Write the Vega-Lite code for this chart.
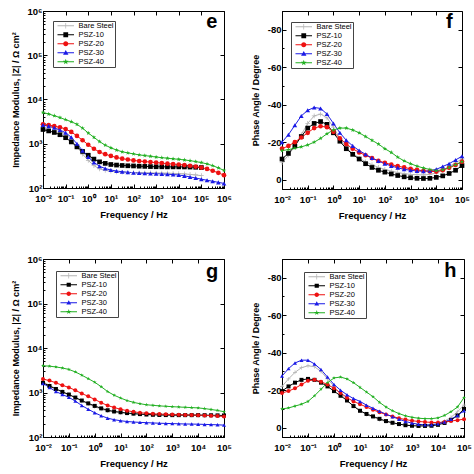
{
"$schema": "https://vega.github.io/schema/vega-lite/v6.json",
"padding": {"left": 10, "top": 5, "right": 0, "bottom": 0},
"config": {
  "font": "Liberation Sans",
  "view": {"stroke": "black", "strokeWidth": 1},
  "axis": {"grid": false, "domainColor": "black", "tickColor": "black", "labelColor": "black", "titleColor": "black", "labelFontWeight": "bold", "labelFontSize": 9.5, "titleFontWeight": "bold", "titleFontSize": 9.5, "tickSize": -4, "labelFlush": false, "labelOverlap": false},
  "axisX": {"labelPadding": 9, "titlePadding": 7},
  "axisY": {"labelPadding": 5, "titlePadding": 6.5, "titleFontSize": 9},
  "legend": {"title": null, "orient": "none", "strokeColor": "#444", "padding": 1, "labelFontSize": 7.5, "labelColor": "black", "symbolSize": 36, "symbolOffset": 8, "labelOffset": 9, "rowPadding": 0, "symbolStrokeWidth": 0}
},
"datasets": {
"e": [
{"series":"Bare Steel","freq":0.01,"value":2700},{"series":"Bare Steel","freq":0.0178,"value":2500},{"series":"Bare Steel","freq":0.0316,"value":2250},{"series":"Bare Steel","freq":0.0562,"value":1950},{"series":"Bare Steel","freq":0.1,"value":1650},{"series":"Bare Steel","freq":0.178,"value":1250},{"series":"Bare Steel","freq":0.316,"value":850},{"series":"Bare Steel","freq":0.562,"value":580},{"series":"Bare Steel","freq":1,"value":420},{"series":"Bare Steel","freq":1.78,"value":320},{"series":"Bare Steel","freq":3.16,"value":270},{"series":"Bare Steel","freq":5.62,"value":250},{"series":"Bare Steel","freq":10,"value":240},{"series":"Bare Steel","freq":17.8,"value":232},{"series":"Bare Steel","freq":31.6,"value":227},{"series":"Bare Steel","freq":56.2,"value":224},{"series":"Bare Steel","freq":100,"value":222},{"series":"Bare Steel","freq":178,"value":221},{"series":"Bare Steel","freq":316,"value":220},{"series":"Bare Steel","freq":562,"value":219},{"series":"Bare Steel","freq":1000,"value":218},{"series":"Bare Steel","freq":1780,"value":217},{"series":"Bare Steel","freq":3160,"value":216},{"series":"Bare Steel","freq":5620,"value":214},{"series":"Bare Steel","freq":10000,"value":212},{"series":"Bare Steel","freq":17800,"value":208},{"series":"Bare Steel","freq":31600,"value":203},{"series":"Bare Steel","freq":56200,"value":197},{"series":"Bare Steel","freq":100000,"value":190},
{"series":"PSZ-10","freq":0.01,"value":2100},{"series":"PSZ-10","freq":0.0178,"value":1950},{"series":"PSZ-10","freq":0.0316,"value":1800},{"series":"PSZ-10","freq":0.0562,"value":1600},{"series":"PSZ-10","freq":0.1,"value":1370},{"series":"PSZ-10","freq":0.178,"value":1100},{"series":"PSZ-10","freq":0.316,"value":850},{"series":"PSZ-10","freq":0.562,"value":670},{"series":"PSZ-10","freq":1,"value":550},{"series":"PSZ-10","freq":1.78,"value":450},{"series":"PSZ-10","freq":3.16,"value":390},{"series":"PSZ-10","freq":5.62,"value":360},{"series":"PSZ-10","freq":10,"value":340},{"series":"PSZ-10","freq":17.8,"value":330},{"series":"PSZ-10","freq":31.6,"value":323},{"series":"PSZ-10","freq":56.2,"value":318},{"series":"PSZ-10","freq":100,"value":315},{"series":"PSZ-10","freq":178,"value":311},{"series":"PSZ-10","freq":316,"value":308},{"series":"PSZ-10","freq":562,"value":305},{"series":"PSZ-10","freq":1000,"value":302},{"series":"PSZ-10","freq":1780,"value":301},{"series":"PSZ-10","freq":3160,"value":300},{"series":"PSZ-10","freq":5620,"value":300},{"series":"PSZ-10","freq":10000,"value":300},{"series":"PSZ-10","freq":17800,"value":299},{"series":"PSZ-10","freq":31600,"value":297},{"series":"PSZ-10","freq":56200,"value":294},{"series":"PSZ-10","freq":100000,"value":290},
{"series":"PSZ-20","freq":0.01,"value":2750},{"series":"PSZ-20","freq":0.0178,"value":2650},{"series":"PSZ-20","freq":0.0316,"value":2500},{"series":"PSZ-20","freq":0.0562,"value":2350},{"series":"PSZ-20","freq":0.1,"value":2150},{"series":"PSZ-20","freq":0.178,"value":1850},{"series":"PSZ-20","freq":0.316,"value":1500},{"series":"PSZ-20","freq":0.562,"value":1200},{"series":"PSZ-20","freq":1,"value":950},{"series":"PSZ-20","freq":1.78,"value":770},{"series":"PSZ-20","freq":3.16,"value":650},{"series":"PSZ-20","freq":5.62,"value":580},{"series":"PSZ-20","freq":10,"value":530},{"series":"PSZ-20","freq":17.8,"value":490},{"series":"PSZ-20","freq":31.6,"value":460},{"series":"PSZ-20","freq":56.2,"value":440},{"series":"PSZ-20","freq":100,"value":420},{"series":"PSZ-20","freq":178,"value":405},{"series":"PSZ-20","freq":316,"value":395},{"series":"PSZ-20","freq":562,"value":385},{"series":"PSZ-20","freq":1000,"value":375},{"series":"PSZ-20","freq":1780,"value":365},{"series":"PSZ-20","freq":3160,"value":355},{"series":"PSZ-20","freq":5620,"value":348},{"series":"PSZ-20","freq":10000,"value":340},{"series":"PSZ-20","freq":17800,"value":330},{"series":"PSZ-20","freq":31600,"value":318},{"series":"PSZ-20","freq":56200,"value":305},{"series":"PSZ-20","freq":100000,"value":290},{"series":"PSZ-20","freq":178000,"value":270},{"series":"PSZ-20","freq":316000,"value":245},{"series":"PSZ-20","freq":562000,"value":220},{"series":"PSZ-20","freq":1000000,"value":195},
{"series":"PSZ-30","freq":0.01,"value":2650},{"series":"PSZ-30","freq":0.0178,"value":2500},{"series":"PSZ-30","freq":0.0316,"value":2300},{"series":"PSZ-30","freq":0.0562,"value":2050},{"series":"PSZ-30","freq":0.1,"value":1770},{"series":"PSZ-30","freq":0.178,"value":1400},{"series":"PSZ-30","freq":0.316,"value":1000},{"series":"PSZ-30","freq":0.562,"value":700},{"series":"PSZ-30","freq":1,"value":500},{"series":"PSZ-30","freq":1.78,"value":380},{"series":"PSZ-30","freq":3.16,"value":310},{"series":"PSZ-30","freq":5.62,"value":275},{"series":"PSZ-30","freq":10,"value":255},{"series":"PSZ-30","freq":17.8,"value":242},{"series":"PSZ-30","freq":31.6,"value":233},{"series":"PSZ-30","freq":56.2,"value":227},{"series":"PSZ-30","freq":100,"value":222},{"series":"PSZ-30","freq":178,"value":218},{"series":"PSZ-30","freq":316,"value":215},{"series":"PSZ-30","freq":562,"value":213},{"series":"PSZ-30","freq":1000,"value":211},{"series":"PSZ-30","freq":1780,"value":208},{"series":"PSZ-30","freq":3160,"value":205},{"series":"PSZ-30","freq":5620,"value":201},{"series":"PSZ-30","freq":10000,"value":197},{"series":"PSZ-30","freq":17800,"value":188},{"series":"PSZ-30","freq":31600,"value":178},{"series":"PSZ-30","freq":56200,"value":168},{"series":"PSZ-30","freq":100000,"value":158},{"series":"PSZ-30","freq":178000,"value":150},{"series":"PSZ-30","freq":316000,"value":142},{"series":"PSZ-30","freq":562000,"value":134},{"series":"PSZ-30","freq":1000000,"value":127},
{"series":"PSZ-40","freq":0.01,"value":5100},{"series":"PSZ-40","freq":0.0178,"value":4700},{"series":"PSZ-40","freq":0.0316,"value":4300},{"series":"PSZ-40","freq":0.0562,"value":3900},{"series":"PSZ-40","freq":0.1,"value":3500},{"series":"PSZ-40","freq":0.178,"value":3150},{"series":"PSZ-40","freq":0.316,"value":2750},{"series":"PSZ-40","freq":0.562,"value":2250},{"series":"PSZ-40","freq":1,"value":1750},{"series":"PSZ-40","freq":1.78,"value":1400},{"series":"PSZ-40","freq":3.16,"value":1120},{"series":"PSZ-40","freq":5.62,"value":930},{"series":"PSZ-40","freq":10,"value":810},{"series":"PSZ-40","freq":17.8,"value":720},{"series":"PSZ-40","freq":31.6,"value":660},{"series":"PSZ-40","freq":56.2,"value":620},{"series":"PSZ-40","freq":100,"value":590},{"series":"PSZ-40","freq":178,"value":560},{"series":"PSZ-40","freq":316,"value":540},{"series":"PSZ-40","freq":562,"value":520},{"series":"PSZ-40","freq":1000,"value":500},{"series":"PSZ-40","freq":1780,"value":485},{"series":"PSZ-40","freq":3160,"value":470},{"series":"PSZ-40","freq":5620,"value":455},{"series":"PSZ-40","freq":10000,"value":445},{"series":"PSZ-40","freq":17800,"value":430},{"series":"PSZ-40","freq":31600,"value":415},{"series":"PSZ-40","freq":56200,"value":395},{"series":"PSZ-40","freq":100000,"value":375},{"series":"PSZ-40","freq":178000,"value":350},{"series":"PSZ-40","freq":316000,"value":320},{"series":"PSZ-40","freq":562000,"value":285},{"series":"PSZ-40","freq":1000000,"value":250}
],
"f": [
{"series":"Bare Steel","freq":0.01,"value":-9},{"series":"Bare Steel","freq":0.0178,"value":-13},{"series":"Bare Steel","freq":0.0316,"value":-18},{"series":"Bare Steel","freq":0.0562,"value":-24},{"series":"Bare Steel","freq":0.1,"value":-30},{"series":"Bare Steel","freq":0.178,"value":-34},{"series":"Bare Steel","freq":0.316,"value":-35},{"series":"Bare Steel","freq":0.562,"value":-33},{"series":"Bare Steel","freq":1,"value":-28},{"series":"Bare Steel","freq":1.78,"value":-22},{"series":"Bare Steel","freq":3.16,"value":-17},{"series":"Bare Steel","freq":5.62,"value":-14},{"series":"Bare Steel","freq":10,"value":-11.5},{"series":"Bare Steel","freq":17.8,"value":-9.5},{"series":"Bare Steel","freq":31.6,"value":-8},{"series":"Bare Steel","freq":56.2,"value":-6.5},{"series":"Bare Steel","freq":100,"value":-5.5},{"series":"Bare Steel","freq":178,"value":-4.5},{"series":"Bare Steel","freq":316,"value":-3.8},{"series":"Bare Steel","freq":562,"value":-3.2},{"series":"Bare Steel","freq":1000,"value":-2.8},{"series":"Bare Steel","freq":1780,"value":-2.6},{"series":"Bare Steel","freq":3160,"value":-2.5},{"series":"Bare Steel","freq":5620,"value":-2.8},{"series":"Bare Steel","freq":10000,"value":-3.5},{"series":"Bare Steel","freq":17800,"value":-5},{"series":"Bare Steel","freq":31600,"value":-7},{"series":"Bare Steel","freq":56200,"value":-9},{"series":"Bare Steel","freq":100000,"value":-11},
{"series":"PSZ-10","freq":0.01,"value":-11},{"series":"PSZ-10","freq":0.0178,"value":-14},{"series":"PSZ-10","freq":0.0316,"value":-18},{"series":"PSZ-10","freq":0.0562,"value":-23},{"series":"PSZ-10","freq":0.1,"value":-27.5},{"series":"PSZ-10","freq":0.178,"value":-30},{"series":"PSZ-10","freq":0.316,"value":-31},{"series":"PSZ-10","freq":0.562,"value":-29.5},{"series":"PSZ-10","freq":1,"value":-25},{"series":"PSZ-10","freq":1.78,"value":-20.5},{"series":"PSZ-10","freq":3.16,"value":-16.5},{"series":"PSZ-10","freq":5.62,"value":-13.5},{"series":"PSZ-10","freq":10,"value":-11},{"series":"PSZ-10","freq":17.8,"value":-8.5},{"series":"PSZ-10","freq":31.6,"value":-6.5},{"series":"PSZ-10","freq":56.2,"value":-5},{"series":"PSZ-10","freq":100,"value":-4},{"series":"PSZ-10","freq":178,"value":-3},{"series":"PSZ-10","freq":316,"value":-2.2},{"series":"PSZ-10","freq":562,"value":-1.5},{"series":"PSZ-10","freq":1000,"value":-1},{"series":"PSZ-10","freq":1780,"value":-0.7},{"series":"PSZ-10","freq":3160,"value":-0.6},{"series":"PSZ-10","freq":5620,"value":-0.7},{"series":"PSZ-10","freq":10000,"value":-1.2},{"series":"PSZ-10","freq":17800,"value":-2},{"series":"PSZ-10","freq":31600,"value":-3.3},{"series":"PSZ-10","freq":56200,"value":-5},{"series":"PSZ-10","freq":100000,"value":-7.5},
{"series":"PSZ-20","freq":0.01,"value":-16.5},{"series":"PSZ-20","freq":0.0178,"value":-18},{"series":"PSZ-20","freq":0.0316,"value":-20},{"series":"PSZ-20","freq":0.0562,"value":-22.5},{"series":"PSZ-20","freq":0.1,"value":-25},{"series":"PSZ-20","freq":0.178,"value":-27.5},{"series":"PSZ-20","freq":0.316,"value":-28.5},{"series":"PSZ-20","freq":0.562,"value":-28},{"series":"PSZ-20","freq":1,"value":-25.5},{"series":"PSZ-20","freq":1.78,"value":-22},{"series":"PSZ-20","freq":3.16,"value":-19},{"series":"PSZ-20","freq":5.62,"value":-16.5},{"series":"PSZ-20","freq":10,"value":-14.5},{"series":"PSZ-20","freq":17.8,"value":-13},{"series":"PSZ-20","freq":31.6,"value":-11.5},{"series":"PSZ-20","freq":56.2,"value":-10},{"series":"PSZ-20","freq":100,"value":-9},{"series":"PSZ-20","freq":178,"value":-8},{"series":"PSZ-20","freq":316,"value":-7.2},{"series":"PSZ-20","freq":562,"value":-6.5},{"series":"PSZ-20","freq":1000,"value":-5.8},{"series":"PSZ-20","freq":1780,"value":-5.2},{"series":"PSZ-20","freq":3160,"value":-4.7},{"series":"PSZ-20","freq":5620,"value":-4.4},{"series":"PSZ-20","freq":10000,"value":-4.3},{"series":"PSZ-20","freq":17800,"value":-5},{"series":"PSZ-20","freq":31600,"value":-6.3},{"series":"PSZ-20","freq":56200,"value":-7.8},{"series":"PSZ-20","freq":100000,"value":-9.6},
{"series":"PSZ-30","freq":0.01,"value":-20},{"series":"PSZ-30","freq":0.0178,"value":-24},{"series":"PSZ-30","freq":0.0316,"value":-29},{"series":"PSZ-30","freq":0.0562,"value":-34},{"series":"PSZ-30","freq":0.1,"value":-37},{"series":"PSZ-30","freq":0.178,"value":-38.5},{"series":"PSZ-30","freq":0.316,"value":-38},{"series":"PSZ-30","freq":0.562,"value":-35},{"series":"PSZ-30","freq":1,"value":-30},{"series":"PSZ-30","freq":1.78,"value":-25},{"series":"PSZ-30","freq":3.16,"value":-21},{"series":"PSZ-30","freq":5.62,"value":-18},{"series":"PSZ-30","freq":10,"value":-15.5},{"series":"PSZ-30","freq":17.8,"value":-13.5},{"series":"PSZ-30","freq":31.6,"value":-11.5},{"series":"PSZ-30","freq":56.2,"value":-10},{"series":"PSZ-30","freq":100,"value":-8.5},{"series":"PSZ-30","freq":178,"value":-7.3},{"series":"PSZ-30","freq":316,"value":-6.3},{"series":"PSZ-30","freq":562,"value":-5.5},{"series":"PSZ-30","freq":1000,"value":-5},{"series":"PSZ-30","freq":1780,"value":-4.6},{"series":"PSZ-30","freq":3160,"value":-4.5},{"series":"PSZ-30","freq":5620,"value":-4.7},{"series":"PSZ-30","freq":10000,"value":-5.5},{"series":"PSZ-30","freq":17800,"value":-7},{"series":"PSZ-30","freq":31600,"value":-8.5},{"series":"PSZ-30","freq":56200,"value":-10.5},{"series":"PSZ-30","freq":100000,"value":-12.5},
{"series":"PSZ-40","freq":0.01,"value":-15.5},{"series":"PSZ-40","freq":0.0178,"value":-16},{"series":"PSZ-40","freq":0.0316,"value":-16.8},{"series":"PSZ-40","freq":0.0562,"value":-17.5},{"series":"PSZ-40","freq":0.1,"value":-18.5},{"series":"PSZ-40","freq":0.178,"value":-20},{"series":"PSZ-40","freq":0.316,"value":-22},{"series":"PSZ-40","freq":0.562,"value":-24.5},{"series":"PSZ-40","freq":1,"value":-26.5},{"series":"PSZ-40","freq":1.78,"value":-27.5},{"series":"PSZ-40","freq":3.16,"value":-27.5},{"series":"PSZ-40","freq":5.62,"value":-26.5},{"series":"PSZ-40","freq":10,"value":-25},{"series":"PSZ-40","freq":17.8,"value":-23},{"series":"PSZ-40","freq":31.6,"value":-21},{"series":"PSZ-40","freq":56.2,"value":-19},{"series":"PSZ-40","freq":100,"value":-16.5},{"series":"PSZ-40","freq":178,"value":-14.5},{"series":"PSZ-40","freq":316,"value":-12},{"series":"PSZ-40","freq":562,"value":-10},{"series":"PSZ-40","freq":1000,"value":-8.5},{"series":"PSZ-40","freq":1780,"value":-7.2},{"series":"PSZ-40","freq":3160,"value":-6.2},{"series":"PSZ-40","freq":5620,"value":-5.4},{"series":"PSZ-40","freq":10000,"value":-4.8},{"series":"PSZ-40","freq":17800,"value":-5.3},{"series":"PSZ-40","freq":31600,"value":-6.5},{"series":"PSZ-40","freq":56200,"value":-8},{"series":"PSZ-40","freq":100000,"value":-9.6}
],
"g": [
{"series":"Bare Steel","freq":0.01,"value":1750},{"series":"Bare Steel","freq":0.0178,"value":1450},{"series":"Bare Steel","freq":0.0316,"value":1220},{"series":"Bare Steel","freq":0.0562,"value":1050},{"series":"Bare Steel","freq":0.1,"value":900},{"series":"Bare Steel","freq":0.178,"value":760},{"series":"Bare Steel","freq":0.316,"value":640},{"series":"Bare Steel","freq":0.562,"value":550},{"series":"Bare Steel","freq":1,"value":480},{"series":"Bare Steel","freq":1.78,"value":420},{"series":"Bare Steel","freq":3.16,"value":385},{"series":"Bare Steel","freq":5.62,"value":362},{"series":"Bare Steel","freq":10,"value":348},{"series":"Bare Steel","freq":17.8,"value":338},{"series":"Bare Steel","freq":31.6,"value":330},{"series":"Bare Steel","freq":56.2,"value":324},{"series":"Bare Steel","freq":100,"value":320},{"series":"Bare Steel","freq":178,"value":317},{"series":"Bare Steel","freq":316,"value":315},{"series":"Bare Steel","freq":562,"value":313},{"series":"Bare Steel","freq":1000,"value":312},{"series":"Bare Steel","freq":1780,"value":311},{"series":"Bare Steel","freq":3160,"value":310},{"series":"Bare Steel","freq":5620,"value":309},{"series":"Bare Steel","freq":10000,"value":308},{"series":"Bare Steel","freq":17800,"value":306},{"series":"Bare Steel","freq":31600,"value":304},{"series":"Bare Steel","freq":56200,"value":302},{"series":"Bare Steel","freq":100000,"value":300},
{"series":"PSZ-10","freq":0.01,"value":1650},{"series":"PSZ-10","freq":0.0178,"value":1400},{"series":"PSZ-10","freq":0.0316,"value":1200},{"series":"PSZ-10","freq":0.0562,"value":1030},{"series":"PSZ-10","freq":0.1,"value":900},{"series":"PSZ-10","freq":0.178,"value":770},{"series":"PSZ-10","freq":0.316,"value":660},{"series":"PSZ-10","freq":0.562,"value":570},{"series":"PSZ-10","freq":1,"value":500},{"series":"PSZ-10","freq":1.78,"value":440},{"series":"PSZ-10","freq":3.16,"value":400},{"series":"PSZ-10","freq":5.62,"value":375},{"series":"PSZ-10","freq":10,"value":360},{"series":"PSZ-10","freq":17.8,"value":345},{"series":"PSZ-10","freq":31.6,"value":335},{"series":"PSZ-10","freq":56.2,"value":327},{"series":"PSZ-10","freq":100,"value":320},{"series":"PSZ-10","freq":178,"value":316},{"series":"PSZ-10","freq":316,"value":313},{"series":"PSZ-10","freq":562,"value":311},{"series":"PSZ-10","freq":1000,"value":310},{"series":"PSZ-10","freq":1780,"value":310},{"series":"PSZ-10","freq":3160,"value":310},{"series":"PSZ-10","freq":5620,"value":310},{"series":"PSZ-10","freq":10000,"value":310},{"series":"PSZ-10","freq":17800,"value":309},{"series":"PSZ-10","freq":31600,"value":308},{"series":"PSZ-10","freq":56200,"value":306},{"series":"PSZ-10","freq":100000,"value":305},
{"series":"PSZ-20","freq":0.01,"value":2000},{"series":"PSZ-20","freq":0.0178,"value":1850},{"series":"PSZ-20","freq":0.0316,"value":1650},{"series":"PSZ-20","freq":0.0562,"value":1450},{"series":"PSZ-20","freq":0.1,"value":1300},{"series":"PSZ-20","freq":0.178,"value":1120},{"series":"PSZ-20","freq":0.316,"value":950},{"series":"PSZ-20","freq":0.562,"value":820},{"series":"PSZ-20","freq":1,"value":700},{"series":"PSZ-20","freq":1.78,"value":590},{"series":"PSZ-20","freq":3.16,"value":510},{"series":"PSZ-20","freq":5.62,"value":460},{"series":"PSZ-20","freq":10,"value":420},{"series":"PSZ-20","freq":17.8,"value":390},{"series":"PSZ-20","freq":31.6,"value":368},{"series":"PSZ-20","freq":56.2,"value":352},{"series":"PSZ-20","freq":100,"value":340},{"series":"PSZ-20","freq":178,"value":333},{"series":"PSZ-20","freq":316,"value":327},{"series":"PSZ-20","freq":562,"value":323},{"series":"PSZ-20","freq":1000,"value":320},{"series":"PSZ-20","freq":1780,"value":317},{"series":"PSZ-20","freq":3160,"value":314},{"series":"PSZ-20","freq":5620,"value":312},{"series":"PSZ-20","freq":10000,"value":310},{"series":"PSZ-20","freq":17800,"value":306},{"series":"PSZ-20","freq":31600,"value":301},{"series":"PSZ-20","freq":56200,"value":296},{"series":"PSZ-20","freq":100000,"value":290},
{"series":"PSZ-30","freq":0.01,"value":1600},{"series":"PSZ-30","freq":0.0178,"value":1300},{"series":"PSZ-30","freq":0.0316,"value":1050},{"series":"PSZ-30","freq":0.0562,"value":900},{"series":"PSZ-30","freq":0.1,"value":780},{"series":"PSZ-30","freq":0.178,"value":640},{"series":"PSZ-30","freq":0.316,"value":510},{"series":"PSZ-30","freq":0.562,"value":420},{"series":"PSZ-30","freq":1,"value":350},{"series":"PSZ-30","freq":1.78,"value":300},{"series":"PSZ-30","freq":3.16,"value":265},{"series":"PSZ-30","freq":5.62,"value":245},{"series":"PSZ-30","freq":10,"value":232},{"series":"PSZ-30","freq":17.8,"value":223},{"series":"PSZ-30","freq":31.6,"value":217},{"series":"PSZ-30","freq":56.2,"value":213},{"series":"PSZ-30","freq":100,"value":210},{"series":"PSZ-30","freq":178,"value":207},{"series":"PSZ-30","freq":316,"value":204},{"series":"PSZ-30","freq":562,"value":202},{"series":"PSZ-30","freq":1000,"value":200},{"series":"PSZ-30","freq":1780,"value":198},{"series":"PSZ-30","freq":3160,"value":196},{"series":"PSZ-30","freq":5620,"value":195},{"series":"PSZ-30","freq":10000,"value":194},{"series":"PSZ-30","freq":17800,"value":192},{"series":"PSZ-30","freq":31600,"value":190},{"series":"PSZ-30","freq":56200,"value":188},{"series":"PSZ-30","freq":100000,"value":185},
{"series":"PSZ-40","freq":0.01,"value":4000},{"series":"PSZ-40","freq":0.0178,"value":3900},{"series":"PSZ-40","freq":0.0316,"value":3750},{"series":"PSZ-40","freq":0.0562,"value":3550},{"series":"PSZ-40","freq":0.1,"value":3300},{"series":"PSZ-40","freq":0.178,"value":2900},{"series":"PSZ-40","freq":0.316,"value":2450},{"series":"PSZ-40","freq":0.562,"value":2050},{"series":"PSZ-40","freq":1,"value":1700},{"series":"PSZ-40","freq":1.78,"value":1350},{"series":"PSZ-40","freq":3.16,"value":1050},{"series":"PSZ-40","freq":5.62,"value":870},{"series":"PSZ-40","freq":10,"value":750},{"series":"PSZ-40","freq":17.8,"value":660},{"series":"PSZ-40","freq":31.6,"value":600},{"series":"PSZ-40","freq":56.2,"value":560},{"series":"PSZ-40","freq":100,"value":530},{"series":"PSZ-40","freq":178,"value":515},{"series":"PSZ-40","freq":316,"value":500},{"series":"PSZ-40","freq":562,"value":490},{"series":"PSZ-40","freq":1000,"value":480},{"series":"PSZ-40","freq":1780,"value":472},{"series":"PSZ-40","freq":3160,"value":465},{"series":"PSZ-40","freq":5620,"value":458},{"series":"PSZ-40","freq":10000,"value":450},{"series":"PSZ-40","freq":17800,"value":435},{"series":"PSZ-40","freq":31600,"value":415},{"series":"PSZ-40","freq":56200,"value":395},{"series":"PSZ-40","freq":100000,"value":370}
],
"h": [
{"series":"Bare Steel","freq":0.01,"value":-22},{"series":"Bare Steel","freq":0.0178,"value":-26},{"series":"Bare Steel","freq":0.0316,"value":-29.5},{"series":"Bare Steel","freq":0.0562,"value":-32},{"series":"Bare Steel","freq":0.1,"value":-33},{"series":"Bare Steel","freq":0.178,"value":-32.5},{"series":"Bare Steel","freq":0.316,"value":-30},{"series":"Bare Steel","freq":0.562,"value":-26},{"series":"Bare Steel","freq":1,"value":-22},{"series":"Bare Steel","freq":1.78,"value":-18},{"series":"Bare Steel","freq":3.16,"value":-14.5},{"series":"Bare Steel","freq":5.62,"value":-11.5},{"series":"Bare Steel","freq":10,"value":-9},{"series":"Bare Steel","freq":17.8,"value":-7},{"series":"Bare Steel","freq":31.6,"value":-5.5},{"series":"Bare Steel","freq":56.2,"value":-4.2},{"series":"Bare Steel","freq":100,"value":-3.2},{"series":"Bare Steel","freq":178,"value":-2.4},{"series":"Bare Steel","freq":316,"value":-1.8},{"series":"Bare Steel","freq":562,"value":-1.4},{"series":"Bare Steel","freq":1000,"value":-1.2},{"series":"Bare Steel","freq":1780,"value":-1.2},{"series":"Bare Steel","freq":3160,"value":-1.3},{"series":"Bare Steel","freq":5620,"value":-1.6},{"series":"Bare Steel","freq":10000,"value":-2.2},{"series":"Bare Steel","freq":17800,"value":-3.5},{"series":"Bare Steel","freq":31600,"value":-5.5},{"series":"Bare Steel","freq":56200,"value":-8.5},{"series":"Bare Steel","freq":100000,"value":-12},
{"series":"PSZ-10","freq":0.01,"value":-19.5},{"series":"PSZ-10","freq":0.0178,"value":-22},{"series":"PSZ-10","freq":0.0316,"value":-24},{"series":"PSZ-10","freq":0.0562,"value":-25.5},{"series":"PSZ-10","freq":0.1,"value":-26},{"series":"PSZ-10","freq":0.178,"value":-25.5},{"series":"PSZ-10","freq":0.316,"value":-24},{"series":"PSZ-10","freq":0.562,"value":-22},{"series":"PSZ-10","freq":1,"value":-19.5},{"series":"PSZ-10","freq":1.78,"value":-17},{"series":"PSZ-10","freq":3.16,"value":-14.5},{"series":"PSZ-10","freq":5.62,"value":-11.5},{"series":"PSZ-10","freq":10,"value":-9},{"series":"PSZ-10","freq":17.8,"value":-7.3},{"series":"PSZ-10","freq":31.6,"value":-6},{"series":"PSZ-10","freq":56.2,"value":-4.7},{"series":"PSZ-10","freq":100,"value":-3.5},{"series":"PSZ-10","freq":178,"value":-2.6},{"series":"PSZ-10","freq":316,"value":-1.9},{"series":"PSZ-10","freq":562,"value":-1.3},{"series":"PSZ-10","freq":1000,"value":-1},{"series":"PSZ-10","freq":1780,"value":-0.9},{"series":"PSZ-10","freq":3160,"value":-0.9},{"series":"PSZ-10","freq":5620,"value":-1},{"series":"PSZ-10","freq":10000,"value":-1.5},{"series":"PSZ-10","freq":17800,"value":-2.5},{"series":"PSZ-10","freq":31600,"value":-4},{"series":"PSZ-10","freq":56200,"value":-6.5},{"series":"PSZ-10","freq":100000,"value":-10},
{"series":"PSZ-20","freq":0.01,"value":-18.5},{"series":"PSZ-20","freq":0.0178,"value":-19.5},{"series":"PSZ-20","freq":0.0316,"value":-21},{"series":"PSZ-20","freq":0.0562,"value":-23},{"series":"PSZ-20","freq":0.1,"value":-25},{"series":"PSZ-20","freq":0.178,"value":-25.5},{"series":"PSZ-20","freq":0.316,"value":-24.5},{"series":"PSZ-20","freq":0.562,"value":-23},{"series":"PSZ-20","freq":1,"value":-21},{"series":"PSZ-20","freq":1.78,"value":-18.5},{"series":"PSZ-20","freq":3.16,"value":-16},{"series":"PSZ-20","freq":5.62,"value":-14},{"series":"PSZ-20","freq":10,"value":-12.5},{"series":"PSZ-20","freq":17.8,"value":-11},{"series":"PSZ-20","freq":31.6,"value":-9.5},{"series":"PSZ-20","freq":56.2,"value":-8.2},{"series":"PSZ-20","freq":100,"value":-7},{"series":"PSZ-20","freq":178,"value":-6},{"series":"PSZ-20","freq":316,"value":-5},{"series":"PSZ-20","freq":562,"value":-4.3},{"series":"PSZ-20","freq":1000,"value":-3.7},{"series":"PSZ-20","freq":1780,"value":-3.3},{"series":"PSZ-20","freq":3160,"value":-3},{"series":"PSZ-20","freq":5620,"value":-2.8},{"series":"PSZ-20","freq":10000,"value":-2.7},{"series":"PSZ-20","freq":17800,"value":-3},{"series":"PSZ-20","freq":31600,"value":-3.5},{"series":"PSZ-20","freq":56200,"value":-4},{"series":"PSZ-20","freq":100000,"value":-4.5},
{"series":"PSZ-30","freq":0.01,"value":-27.5},{"series":"PSZ-30","freq":0.0178,"value":-31.5},{"series":"PSZ-30","freq":0.0316,"value":-34.5},{"series":"PSZ-30","freq":0.0562,"value":-36},{"series":"PSZ-30","freq":0.1,"value":-36},{"series":"PSZ-30","freq":0.178,"value":-34},{"series":"PSZ-30","freq":0.316,"value":-31},{"series":"PSZ-30","freq":0.562,"value":-27},{"series":"PSZ-30","freq":1,"value":-23},{"series":"PSZ-30","freq":1.78,"value":-20},{"series":"PSZ-30","freq":3.16,"value":-17.5},{"series":"PSZ-30","freq":5.62,"value":-15.5},{"series":"PSZ-30","freq":10,"value":-14},{"series":"PSZ-30","freq":17.8,"value":-12},{"series":"PSZ-30","freq":31.6,"value":-10.3},{"series":"PSZ-30","freq":56.2,"value":-8.7},{"series":"PSZ-30","freq":100,"value":-7.2},{"series":"PSZ-30","freq":178,"value":-5.8},{"series":"PSZ-30","freq":316,"value":-4.5},{"series":"PSZ-30","freq":562,"value":-3.3},{"series":"PSZ-30","freq":1000,"value":-2.4},{"series":"PSZ-30","freq":1780,"value":-1.8},{"series":"PSZ-30","freq":3160,"value":-1.5},{"series":"PSZ-30","freq":5620,"value":-1.5},{"series":"PSZ-30","freq":10000,"value":-2},{"series":"PSZ-30","freq":17800,"value":-3},{"series":"PSZ-30","freq":31600,"value":-4.5},{"series":"PSZ-30","freq":56200,"value":-6.5},{"series":"PSZ-30","freq":100000,"value":-9},
{"series":"PSZ-40","freq":0.01,"value":-10},{"series":"PSZ-40","freq":0.0178,"value":-10.5},{"series":"PSZ-40","freq":0.0316,"value":-11.5},{"series":"PSZ-40","freq":0.0562,"value":-12.5},{"series":"PSZ-40","freq":0.1,"value":-14},{"series":"PSZ-40","freq":0.178,"value":-17},{"series":"PSZ-40","freq":0.316,"value":-20.5},{"series":"PSZ-40","freq":0.562,"value":-24},{"series":"PSZ-40","freq":1,"value":-26.5},{"series":"PSZ-40","freq":1.78,"value":-27},{"series":"PSZ-40","freq":3.16,"value":-26},{"series":"PSZ-40","freq":5.62,"value":-24},{"series":"PSZ-40","freq":10,"value":-21.5},{"series":"PSZ-40","freq":17.8,"value":-19},{"series":"PSZ-40","freq":31.6,"value":-16.5},{"series":"PSZ-40","freq":56.2,"value":-13.5},{"series":"PSZ-40","freq":100,"value":-11},{"series":"PSZ-40","freq":178,"value":-9},{"series":"PSZ-40","freq":316,"value":-7.5},{"series":"PSZ-40","freq":562,"value":-6.3},{"series":"PSZ-40","freq":1000,"value":-5.5},{"series":"PSZ-40","freq":1780,"value":-5},{"series":"PSZ-40","freq":3160,"value":-4.8},{"series":"PSZ-40","freq":5620,"value":-4.8},{"series":"PSZ-40","freq":10000,"value":-5.2},{"series":"PSZ-40","freq":17800,"value":-6.5},{"series":"PSZ-40","freq":31600,"value":-8.5},{"series":"PSZ-40","freq":56200,"value":-11},{"series":"PSZ-40","freq":100000,"value":-16}
]
},
"columns": 2,
"spacing": {"row": 70, "column": 58},
"bounds": "flush",
"resolve": {"scale": {"color": "independent", "shape": "independent"}, "legend": {"color": "independent", "shape": "independent"}},
"concat": [
  {"width": 181, "height": 177, "data": {"name": "e"},
   "resolve": {"axis": {"x": "independent", "y": "independent"}},
   "layer": [
    {"mark": {"type": "line", "strokeWidth": 1},
     "encoding": {
      "x": {"field": "freq", "type": "quantitative", "scale": {"type": "log", "domain": [0.01, 1000000], "nice": false}, "axis": {"orient": "bottom", "title": "Frequency / Hz", "values": [0.01,0.1,1,10,100,1000,10000,100000,1000000], "labelExpr": "'10' + replace(replace(replace(replace(replace(replace(replace(replace('' + round(log(datum.value)/LN10), '-', '⁻'), '0', '⁰'), '1', '¹'), '2', '²'), '3', '³'), '4', '⁴'), '5', '⁵'), '6', '⁶')"}},
      "y": {"field": "value", "type": "quantitative", "scale": {"type": "log", "domain": [100, 1000000], "nice": false}, "axis": {"orient": "left", "title": "Impedance Modulus, |Z| / Ω cm²", "values": [100,1000,10000,100000,1000000], "labelExpr": "'10' + replace(replace(replace(replace(replace(replace(replace(replace('' + round(log(datum.value)/LN10), '-', '⁻'), '0', '⁰'), '1', '¹'), '2', '²'), '3', '³'), '4', '⁴'), '5', '⁵'), '6', '⁶')"}},
      "color": {"field": "series", "type": "nominal", "scale": {"domain": ["Bare Steel","PSZ-10","PSZ-20","PSZ-30","PSZ-40"], "range": ["#b4b4b4","#000000","#ee1111","#1a1ae6","#22b022"]}, "legend": {"legendX": 10, "legendY": 10}}
     }},
    {"transform": [{"filter": "datum.series === 'Bare Steel'"}],
     "mark": {"type": "point", "filled": true, "opacity": 1, "size": 22, "shape": "M-1,-0.15H-0.15V-1H0.15V-0.15H1V0.15H0.15V1H-0.15V0.15H-1Z"},
     "encoding": {
      "x": {"field": "freq", "type": "quantitative", "axis": {"orient": "top", "values": [0.01,0.1,1,10,100,1000,10000,100000,1000000], "labels": false, "title": null, "domain": false}},
      "y": {"field": "value", "type": "quantitative", "axis": {"orient": "right", "values": [100,1000,10000,100000,1000000], "labels": false, "title": null, "domain": false}},
      "color": {"field": "series", "type": "nominal", "legend": {"legendX": 10, "legendY": 10}}}},
    {"transform": [{"filter": "datum.series === 'PSZ-10'"}],
     "mark": {"type": "point", "filled": true, "opacity": 1, "size": 22, "shape": "square"},
     "encoding": {"x": {"field": "freq", "type": "quantitative", "axis": null}, "y": {"field": "value", "type": "quantitative", "axis": null}, "color": {"field": "series", "type": "nominal", "legend": {"legendX": 10, "legendY": 10}}}},
    {"transform": [{"filter": "datum.series === 'PSZ-20'"}],
     "mark": {"type": "point", "filled": true, "opacity": 1, "size": 22, "shape": "circle"},
     "encoding": {"x": {"field": "freq", "type": "quantitative", "axis": null}, "y": {"field": "value", "type": "quantitative", "axis": null}, "color": {"field": "series", "type": "nominal", "legend": {"legendX": 10, "legendY": 10}}}},
    {"transform": [{"filter": "datum.series === 'PSZ-30'"}],
     "mark": {"type": "point", "filled": true, "opacity": 1, "size": 22, "shape": "triangle-up"},
     "encoding": {"x": {"field": "freq", "type": "quantitative", "axis": null}, "y": {"field": "value", "type": "quantitative", "axis": null}, "color": {"field": "series", "type": "nominal", "legend": {"legendX": 10, "legendY": 10}}}},
    {"transform": [{"filter": "datum.series === 'PSZ-40'"}],
     "mark": {"type": "point", "filled": true, "opacity": 1, "size": 22, "shape": "M0,-1L0.235,-0.324L0.951,-0.309L0.38,0.124L0.588,0.809L0,0.4L-0.588,0.809L-0.38,0.124L-0.951,-0.309L-0.235,-0.324Z"},
     "encoding": {"x": {"field": "freq", "type": "quantitative", "axis": null}, "y": {"field": "value", "type": "quantitative", "axis": null}, "color": {"field": "series", "type": "nominal", "legend": {"legendX": 10, "legendY": 10}}}},
    {"data": {"values": [{"label": "e"}]},
     "mark": {"type": "text", "fontSize": 20, "fontWeight": "bold", "baseline": "middle", "align": "center"},
     "encoding": {"text": {"field": "label"},
      "x": {"datum": 290000, "type": "quantitative", "axis": {"orient": "bottom", "values": [0.02,0.03,0.04,0.05,0.06,0.07,0.08,0.09,0.2,0.3,0.4,0.5,0.6,0.7,0.8,0.9,2,3,4,5,6,7,8,9,20,30,40,50,60,70,80,90,200,300,400,500,600,700,800,900,2000,3000,4000,5000,6000,7000,8000,9000,20000,30000,40000,50000,60000,70000,80000,90000,200000,300000,400000,500000,600000,700000,800000,900000], "labels": false, "title": null, "domain": false, "tickSize": -2}},
      "y": {"datum": 560000, "type": "quantitative", "axis": {"orient": "left", "values": [200,300,400,500,600,700,800,900,2000,3000,4000,5000,6000,7000,8000,9000,20000,30000,40000,50000,60000,70000,80000,90000,200000,300000,400000,500000,600000,700000,800000,900000], "labels": false, "title": null, "domain": false, "tickSize": -2}}}},
    {"transform": [{"filter": "false"}],
     "mark": {"type": "point", "filled": true, "opacity": 1},
     "encoding": {"x": {"field": "freq", "type": "quantitative", "axis": null}, "y": {"field": "value", "type": "quantitative", "axis": null},
      "color": {"field": "series", "type": "nominal", "legend": {"legendX": 10, "legendY": 10}},
      "shape": {"field": "series", "type": "nominal", "scale": {"domain": ["Bare Steel","PSZ-10","PSZ-20","PSZ-30","PSZ-40"], "range": ["M-2.75,-0.14H2.75V0.14H-2.75ZM-0.9,-0.12H0.9V0.12H-0.9ZM-0.12,-0.9H0.12V0.9H-0.12Z","M-2.75,-0.17H2.75V0.17H-2.75ZM-0.8,-0.8H0.8V0.8H-0.8Z","M-2.75,-0.17H2.75V0.17H-2.75ZM0.85,0A0.85,0.85,0,1,1,-0.85,0A0.85,0.85,0,1,1,0.85,0Z","M-2.75,-0.17H2.75V0.17H-2.75ZM0,-0.95L0.9,0.65L-0.9,0.65Z","M-2.75,-0.17H2.75V0.17H-2.75ZM0,-1L0.235,-0.324L0.951,-0.309L0.38,0.124L0.588,0.809L0,0.4L-0.588,0.809L-0.38,0.124L-0.951,-0.309L-0.235,-0.324Z"]}, "legend": {"legendX": 10, "legendY": 10}}}}
   ]},
  {"width": 180, "height": 178, "data": {"name": "f"},
   "resolve": {"axis": {"x": "independent", "y": "independent"}},
   "layer": [
    {"mark": {"type": "line", "strokeWidth": 1},
     "encoding": {
      "x": {"field": "freq", "type": "quantitative", "scale": {"type": "log", "domain": [0.01, 100000], "nice": false}, "axis": {"orient": "bottom", "title": "Frequency / Hz", "values": [0.01,0.1,1,10,100,1000,10000,100000], "labelExpr": "'10' + replace(replace(replace(replace(replace(replace(replace(replace('' + round(log(datum.value)/LN10), '-', '⁻'), '0', '⁰'), '1', '¹'), '2', '²'), '3', '³'), '4', '⁴'), '5', '⁵'), '6', '⁶')"}},
      "y": {"field": "value", "type": "quantitative", "scale": {"domain": [5, -90], "nice": false, "zero": false}, "axis": {"orient": "left", "title": "Phase Angle / Degree", "values": [-80,-60,-40,-20,0], "labelExpr": "'' + datum.value"}},
      "color": {"field": "series", "type": "nominal", "scale": {"domain": ["Bare Steel","PSZ-10","PSZ-20","PSZ-30","PSZ-40"], "range": ["#b4b4b4","#000000","#ee1111","#1a1ae6","#22b022"]}, "legend": {"legendX": 9, "legendY": 11}}
     }},
    {"transform": [{"filter": "datum.series === 'Bare Steel'"}],
     "mark": {"type": "point", "filled": true, "opacity": 1, "size": 22, "shape": "M-1,-0.15H-0.15V-1H0.15V-0.15H1V0.15H0.15V1H-0.15V0.15H-1Z"},
     "encoding": {
      "x": {"field": "freq", "type": "quantitative", "axis": {"orient": "top", "values": [0.01,0.1,1,10,100,1000,10000,100000], "labels": false, "title": null, "domain": false}},
      "y": {"field": "value", "type": "quantitative", "axis": {"orient": "right", "values": [-80,-60,-40,-20,0], "labels": false, "title": null, "domain": false}},
      "color": {"field": "series", "type": "nominal", "legend": {"legendX": 9, "legendY": 11}}}},
    {"transform": [{"filter": "datum.series === 'PSZ-10'"}],
     "mark": {"type": "point", "filled": true, "opacity": 1, "size": 22, "shape": "square"},
     "encoding": {"x": {"field": "freq", "type": "quantitative", "axis": null}, "y": {"field": "value", "type": "quantitative", "axis": null}, "color": {"field": "series", "type": "nominal", "legend": {"legendX": 9, "legendY": 11}}}},
    {"transform": [{"filter": "datum.series === 'PSZ-20'"}],
     "mark": {"type": "point", "filled": true, "opacity": 1, "size": 22, "shape": "circle"},
     "encoding": {"x": {"field": "freq", "type": "quantitative", "axis": null}, "y": {"field": "value", "type": "quantitative", "axis": null}, "color": {"field": "series", "type": "nominal", "legend": {"legendX": 9, "legendY": 11}}}},
    {"transform": [{"filter": "datum.series === 'PSZ-30'"}],
     "mark": {"type": "point", "filled": true, "opacity": 1, "size": 22, "shape": "triangle-up"},
     "encoding": {"x": {"field": "freq", "type": "quantitative", "axis": null}, "y": {"field": "value", "type": "quantitative", "axis": null}, "color": {"field": "series", "type": "nominal", "legend": {"legendX": 9, "legendY": 11}}}},
    {"transform": [{"filter": "datum.series === 'PSZ-40'"}],
     "mark": {"type": "point", "filled": true, "opacity": 1, "size": 22, "shape": "M0,-1L0.235,-0.324L0.951,-0.309L0.38,0.124L0.588,0.809L0,0.4L-0.588,0.809L-0.38,0.124L-0.951,-0.309L-0.235,-0.324Z"},
     "encoding": {"x": {"field": "freq", "type": "quantitative", "axis": null}, "y": {"field": "value", "type": "quantitative", "axis": null}, "color": {"field": "series", "type": "nominal", "legend": {"legendX": 9, "legendY": 11}}}},
    {"data": {"values": [{"label": "f"}]},
     "mark": {"type": "text", "fontSize": 20, "fontWeight": "bold", "baseline": "middle", "align": "center"},
     "encoding": {"text": {"field": "label"},
      "x": {"datum": 32000, "type": "quantitative", "axis": {"orient": "bottom", "values": [0.02,0.03,0.04,0.05,0.06,0.07,0.08,0.09,0.2,0.3,0.4,0.5,0.6,0.7,0.8,0.9,2,3,4,5,6,7,8,9,20,30,40,50,60,70,80,90,200,300,400,500,600,700,800,900,2000,3000,4000,5000,6000,7000,8000,9000,20000,30000,40000,50000,60000,70000,80000,90000], "labels": false, "title": null, "domain": false, "tickSize": -2}},
      "y": {"datum": -84, "type": "quantitative", "axis": {"orient": "left", "values": [-90,-70,-50,-30,-10], "labels": false, "title": null, "domain": false, "tickSize": -2}}}},
    {"transform": [{"filter": "false"}],
     "mark": {"type": "point", "filled": true, "opacity": 1},
     "encoding": {"x": {"field": "freq", "type": "quantitative", "axis": null}, "y": {"field": "value", "type": "quantitative", "axis": null},
      "color": {"field": "series", "type": "nominal", "legend": {"legendX": 9, "legendY": 11}},
      "shape": {"field": "series", "type": "nominal", "scale": {"domain": ["Bare Steel","PSZ-10","PSZ-20","PSZ-30","PSZ-40"], "range": ["M-2.75,-0.14H2.75V0.14H-2.75ZM-0.9,-0.12H0.9V0.12H-0.9ZM-0.12,-0.9H0.12V0.9H-0.12Z","M-2.75,-0.17H2.75V0.17H-2.75ZM-0.8,-0.8H0.8V0.8H-0.8Z","M-2.75,-0.17H2.75V0.17H-2.75ZM0.85,0A0.85,0.85,0,1,1,-0.85,0A0.85,0.85,0,1,1,0.85,0Z","M-2.75,-0.17H2.75V0.17H-2.75ZM0,-0.95L0.9,0.65L-0.9,0.65Z","M-2.75,-0.17H2.75V0.17H-2.75ZM0,-1L0.235,-0.324L0.951,-0.309L0.38,0.124L0.588,0.809L0,0.4L-0.588,0.809L-0.38,0.124L-0.951,-0.309L-0.235,-0.324Z"]}, "legend": {"legendX": 9, "legendY": 11}}}}
   ]},
  {"width": 181, "height": 178, "data": {"name": "g"},
   "resolve": {"axis": {"x": "independent", "y": "independent"}},
   "layer": [
    {"mark": {"type": "line", "strokeWidth": 1},
     "encoding": {
      "x": {"field": "freq", "type": "quantitative", "scale": {"type": "log", "domain": [0.01, 100000], "nice": false}, "axis": {"orient": "bottom", "title": "Frequency / Hz", "values": [0.01,0.1,1,10,100,1000,10000,100000], "labelExpr": "'10' + replace(replace(replace(replace(replace(replace(replace(replace('' + round(log(datum.value)/LN10), '-', '⁻'), '0', '⁰'), '1', '¹'), '2', '²'), '3', '³'), '4', '⁴'), '5', '⁵'), '6', '⁶')"}},
      "y": {"field": "value", "type": "quantitative", "scale": {"type": "log", "domain": [100, 1000000], "nice": false}, "axis": {"orient": "left", "title": "Impedance Modulus, |Z| / Ω cm²", "values": [100,1000,10000,100000,1000000], "labelExpr": "'10' + replace(replace(replace(replace(replace(replace(replace(replace('' + round(log(datum.value)/LN10), '-', '⁻'), '0', '⁰'), '1', '¹'), '2', '²'), '3', '³'), '4', '⁴'), '5', '⁵'), '6', '⁶')"}},
      "color": {"field": "series", "type": "nominal", "scale": {"domain": ["Bare Steel","PSZ-10","PSZ-20","PSZ-30","PSZ-40"], "range": ["#b4b4b4","#000000","#ee1111","#1a1ae6","#22b022"]}, "legend": {"legendX": 13, "legendY": 12}}
     }},
    {"transform": [{"filter": "datum.series === 'Bare Steel'"}],
     "mark": {"type": "point", "filled": true, "opacity": 1, "size": 16, "shape": "M-1,-0.15H-0.15V-1H0.15V-0.15H1V0.15H0.15V1H-0.15V0.15H-1Z"},
     "encoding": {
      "x": {"field": "freq", "type": "quantitative", "axis": {"orient": "top", "values": [0.01,0.1,1,10,100,1000,10000,100000], "labels": false, "title": null, "domain": false}},
      "y": {"field": "value", "type": "quantitative", "axis": {"orient": "right", "values": [100,1000,10000,100000,1000000], "labels": false, "title": null, "domain": false}},
      "color": {"field": "series", "type": "nominal", "legend": {"legendX": 13, "legendY": 12}}}},
    {"transform": [{"filter": "datum.series === 'PSZ-10'"}],
     "mark": {"type": "point", "filled": true, "opacity": 1, "size": 16, "shape": "square"},
     "encoding": {"x": {"field": "freq", "type": "quantitative", "axis": null}, "y": {"field": "value", "type": "quantitative", "axis": null}, "color": {"field": "series", "type": "nominal", "legend": {"legendX": 13, "legendY": 12}}}},
    {"transform": [{"filter": "datum.series === 'PSZ-20'"}],
     "mark": {"type": "point", "filled": true, "opacity": 1, "size": 16, "shape": "circle"},
     "encoding": {"x": {"field": "freq", "type": "quantitative", "axis": null}, "y": {"field": "value", "type": "quantitative", "axis": null}, "color": {"field": "series", "type": "nominal", "legend": {"legendX": 13, "legendY": 12}}}},
    {"transform": [{"filter": "datum.series === 'PSZ-30'"}],
     "mark": {"type": "point", "filled": true, "opacity": 1, "size": 16, "shape": "triangle-up"},
     "encoding": {"x": {"field": "freq", "type": "quantitative", "axis": null}, "y": {"field": "value", "type": "quantitative", "axis": null}, "color": {"field": "series", "type": "nominal", "legend": {"legendX": 13, "legendY": 12}}}},
    {"transform": [{"filter": "datum.series === 'PSZ-40'"}],
     "mark": {"type": "point", "filled": true, "opacity": 1, "size": 16, "shape": "M0,-1L0.235,-0.324L0.951,-0.309L0.38,0.124L0.588,0.809L0,0.4L-0.588,0.809L-0.38,0.124L-0.951,-0.309L-0.235,-0.324Z"},
     "encoding": {"x": {"field": "freq", "type": "quantitative", "axis": null}, "y": {"field": "value", "type": "quantitative", "axis": null}, "color": {"field": "series", "type": "nominal", "legend": {"legendX": 13, "legendY": 12}}}},
    {"data": {"values": [{"label": "g"}]},
     "mark": {"type": "text", "fontSize": 20, "fontWeight": "bold", "baseline": "middle", "align": "center"},
     "encoding": {"text": {"field": "label"},
      "x": {"datum": 35000, "type": "quantitative", "axis": {"orient": "bottom", "values": [0.02,0.03,0.04,0.05,0.06,0.07,0.08,0.09,0.2,0.3,0.4,0.5,0.6,0.7,0.8,0.9,2,3,4,5,6,7,8,9,20,30,40,50,60,70,80,90,200,300,400,500,600,700,800,900,2000,3000,4000,5000,6000,7000,8000,9000,20000,30000,40000,50000,60000,70000,80000,90000], "labels": false, "title": null, "domain": false, "tickSize": -2}},
      "y": {"datum": 520000, "type": "quantitative", "axis": {"orient": "left", "values": [200,300,400,500,600,700,800,900,2000,3000,4000,5000,6000,7000,8000,9000,20000,30000,40000,50000,60000,70000,80000,90000,200000,300000,400000,500000,600000,700000,800000,900000], "labels": false, "title": null, "domain": false, "tickSize": -2}}}},
    {"transform": [{"filter": "false"}],
     "mark": {"type": "point", "filled": true, "opacity": 1},
     "encoding": {"x": {"field": "freq", "type": "quantitative", "axis": null}, "y": {"field": "value", "type": "quantitative", "axis": null},
      "color": {"field": "series", "type": "nominal", "legend": {"legendX": 13, "legendY": 12}},
      "shape": {"field": "series", "type": "nominal", "scale": {"domain": ["Bare Steel","PSZ-10","PSZ-20","PSZ-30","PSZ-40"], "range": ["M-2.75,-0.14H2.75V0.14H-2.75ZM-0.9,-0.12H0.9V0.12H-0.9ZM-0.12,-0.9H0.12V0.9H-0.12Z","M-2.75,-0.17H2.75V0.17H-2.75ZM-0.7,-0.7H0.7V0.7H-0.7Z","M-2.75,-0.17H2.75V0.17H-2.75ZM0.75,0A0.75,0.75,0,1,1,-0.75,0A0.75,0.75,0,1,1,0.75,0Z","M-2.75,-0.17H2.75V0.17H-2.75ZM0,-0.85L0.8,0.6L-0.8,0.6Z","M-2.75,-0.17H2.75V0.17H-2.75ZM0,-0.9L0.21,-0.29L0.86,-0.28L0.34,0.11L0.53,0.73L0,0.36L-0.53,0.73L-0.34,0.11L-0.86,-0.28L-0.21,-0.29Z"]}, "legend": {"legendX": 13, "legendY": 12}}}}
   ]},
  {"width": 182, "height": 178, "data": {"name": "h"},
   "resolve": {"axis": {"x": "independent", "y": "independent"}},
   "layer": [
    {"mark": {"type": "line", "strokeWidth": 1},
     "encoding": {
      "x": {"field": "freq", "type": "quantitative", "scale": {"type": "log", "domain": [0.01, 100000], "nice": false}, "axis": {"orient": "bottom", "title": "Frequency / Hz", "values": [0.01,0.1,1,10,100,1000,10000,100000], "labelExpr": "'10' + replace(replace(replace(replace(replace(replace(replace(replace('' + round(log(datum.value)/LN10), '-', '⁻'), '0', '⁰'), '1', '¹'), '2', '²'), '3', '³'), '4', '⁴'), '5', '⁵'), '6', '⁶')"}},
      "y": {"field": "value", "type": "quantitative", "scale": {"domain": [5, -90], "nice": false, "zero": false}, "axis": {"orient": "left", "title": "Phase Angle / Degree", "values": [-80,-60,-40,-20,0], "labelExpr": "'' + datum.value"}},
      "color": {"field": "series", "type": "nominal", "scale": {"domain": ["Bare Steel","PSZ-10","PSZ-20","PSZ-30","PSZ-40"], "range": ["#b4b4b4","#000000","#ee1111","#1a1ae6","#22b022"]}, "legend": {"legendX": 22, "legendY": 13}}
     }},
    {"transform": [{"filter": "datum.series === 'Bare Steel'"}],
     "mark": {"type": "point", "filled": true, "opacity": 1, "size": 16, "shape": "M-1,-0.15H-0.15V-1H0.15V-0.15H1V0.15H0.15V1H-0.15V0.15H-1Z"},
     "encoding": {
      "x": {"field": "freq", "type": "quantitative", "axis": {"orient": "top", "values": [0.01,0.1,1,10,100,1000,10000,100000], "labels": false, "title": null, "domain": false}},
      "y": {"field": "value", "type": "quantitative", "axis": {"orient": "right", "values": [-80,-60,-40,-20,0], "labels": false, "title": null, "domain": false}},
      "color": {"field": "series", "type": "nominal", "legend": {"legendX": 22, "legendY": 13}}}},
    {"transform": [{"filter": "datum.series === 'PSZ-10'"}],
     "mark": {"type": "point", "filled": true, "opacity": 1, "size": 16, "shape": "square"},
     "encoding": {"x": {"field": "freq", "type": "quantitative", "axis": null}, "y": {"field": "value", "type": "quantitative", "axis": null}, "color": {"field": "series", "type": "nominal", "legend": {"legendX": 22, "legendY": 13}}}},
    {"transform": [{"filter": "datum.series === 'PSZ-20'"}],
     "mark": {"type": "point", "filled": true, "opacity": 1, "size": 16, "shape": "circle"},
     "encoding": {"x": {"field": "freq", "type": "quantitative", "axis": null}, "y": {"field": "value", "type": "quantitative", "axis": null}, "color": {"field": "series", "type": "nominal", "legend": {"legendX": 22, "legendY": 13}}}},
    {"transform": [{"filter": "datum.series === 'PSZ-30'"}],
     "mark": {"type": "point", "filled": true, "opacity": 1, "size": 16, "shape": "triangle-up"},
     "encoding": {"x": {"field": "freq", "type": "quantitative", "axis": null}, "y": {"field": "value", "type": "quantitative", "axis": null}, "color": {"field": "series", "type": "nominal", "legend": {"legendX": 22, "legendY": 13}}}},
    {"transform": [{"filter": "datum.series === 'PSZ-40'"}],
     "mark": {"type": "point", "filled": true, "opacity": 1, "size": 16, "shape": "M0,-1L0.235,-0.324L0.951,-0.309L0.38,0.124L0.588,0.809L0,0.4L-0.588,0.809L-0.38,0.124L-0.951,-0.309L-0.235,-0.324Z"},
     "encoding": {"x": {"field": "freq", "type": "quantitative", "axis": null}, "y": {"field": "value", "type": "quantitative", "axis": null}, "color": {"field": "series", "type": "nominal", "legend": {"legendX": 22, "legendY": 13}}}},
    {"data": {"values": [{"label": "h"}]},
     "mark": {"type": "text", "fontSize": 20, "fontWeight": "bold", "baseline": "middle", "align": "center"},
     "encoding": {"text": {"field": "label"},
      "x": {"datum": 30000, "type": "quantitative", "axis": {"orient": "bottom", "values": [0.02,0.03,0.04,0.05,0.06,0.07,0.08,0.09,0.2,0.3,0.4,0.5,0.6,0.7,0.8,0.9,2,3,4,5,6,7,8,9,20,30,40,50,60,70,80,90,200,300,400,500,600,700,800,900,2000,3000,4000,5000,6000,7000,8000,9000,20000,30000,40000,50000,60000,70000,80000,90000], "labels": false, "title": null, "domain": false, "tickSize": -2}},
      "y": {"datum": -83.6, "type": "quantitative", "axis": {"orient": "left", "values": [-90,-70,-50,-30,-10], "labels": false, "title": null, "domain": false, "tickSize": -2}}}},
    {"transform": [{"filter": "false"}],
     "mark": {"type": "point", "filled": true, "opacity": 1},
     "encoding": {"x": {"field": "freq", "type": "quantitative", "axis": null}, "y": {"field": "value", "type": "quantitative", "axis": null},
      "color": {"field": "series", "type": "nominal", "legend": {"legendX": 22, "legendY": 13}},
      "shape": {"field": "series", "type": "nominal", "scale": {"domain": ["Bare Steel","PSZ-10","PSZ-20","PSZ-30","PSZ-40"], "range": ["M-2.75,-0.14H2.75V0.14H-2.75ZM-0.9,-0.12H0.9V0.12H-0.9ZM-0.12,-0.9H0.12V0.9H-0.12Z","M-2.75,-0.17H2.75V0.17H-2.75ZM-0.7,-0.7H0.7V0.7H-0.7Z","M-2.75,-0.17H2.75V0.17H-2.75ZM0.75,0A0.75,0.75,0,1,1,-0.75,0A0.75,0.75,0,1,1,0.75,0Z","M-2.75,-0.17H2.75V0.17H-2.75ZM0,-0.85L0.8,0.6L-0.8,0.6Z","M-2.75,-0.17H2.75V0.17H-2.75ZM0,-0.9L0.21,-0.29L0.86,-0.28L0.34,0.11L0.53,0.73L0,0.36L-0.53,0.73L-0.34,0.11L-0.86,-0.28L-0.21,-0.29Z"]}, "legend": {"legendX": 22, "legendY": 13}}}}
   ]}
]
}
